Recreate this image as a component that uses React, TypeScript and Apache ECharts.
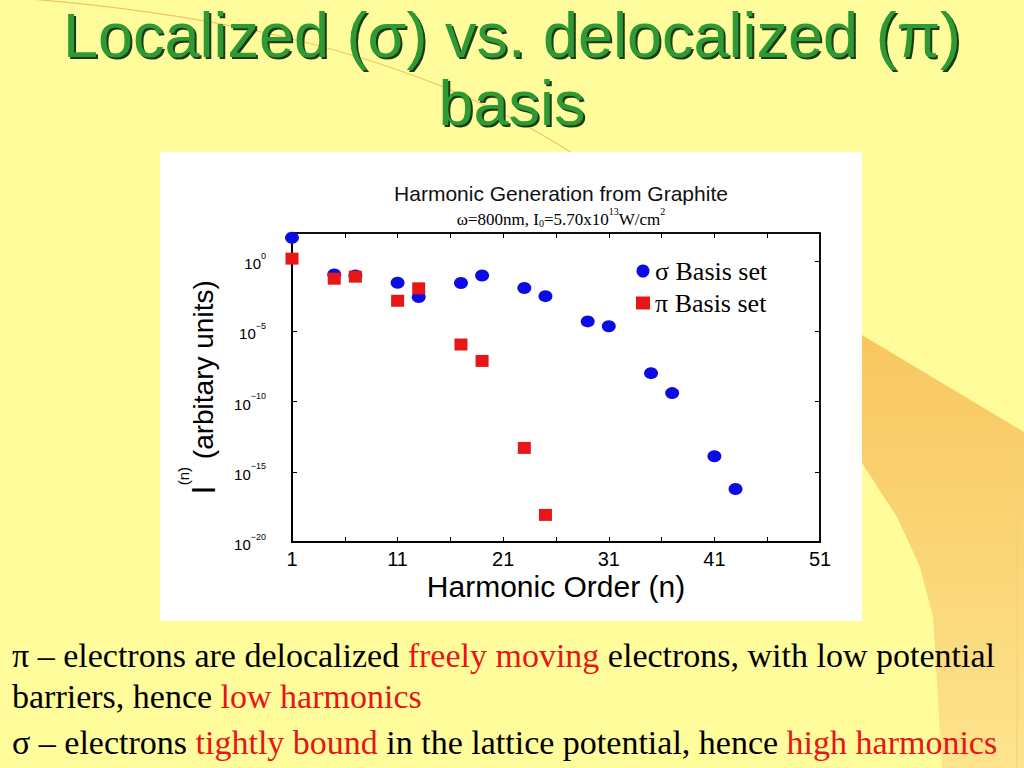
import { useEffect, useRef } from "react";
import * as echarts from "echarts";

// harmonic orders (odd only) and intensities
const sigmaOrders = [1, 5, 7, 11, 13, 17, 19, 23, 25, 29, 31, 35, 37, 41, 43];
const sigmaIntensity = [
  4.6e1, 1.1e-1, 9.5e-2, 2.9e-2, 2.75e-3, 2.75e-2, 9.5e-2, 1.2e-2, 3.2e-3,
  5.1e-5, 2.3e-5, 1.05e-8, 4.0e-10, 1.26e-14, 5.9e-17,
];
const piOrders = [1, 5, 7, 11, 13, 17, 19, 23, 25];
const piIntensity = [1.5, 5.6e-2, 7.8e-2, 1.5e-3, 1.15e-2, 1.15e-6, 7.8e-8, 5.0e-14, 8.5e-19];

const xLabelValues = [1, 11, 21, 31, 41, 51];
const xTickValues = [1, 6, 11, 16, 21, 26, 31, 36, 41, 46, 51];
const yTickValues = [1e-20, 1e-15, 1e-10, 1e-5, 1e0];

const SANS = "Liberation Sans, Arial, Helvetica, sans-serif";
const SERIF = "Liberation Serif, Times New Roman, serif";
const TITLE_LINE1 = "Localized (σ) vs. delocalized (π)";
const TITLE_LINE2 = "basis";

export default function App() {
  const chartRef = useRef<HTMLDivElement>(null);

  useEffect(() => {
    if (!chartRef.current) return;
    const chart = echarts.init(chartRef.current, null, { renderer: "svg" });

    const expLabel = (v: number) => {
      const e = Math.round(Math.log10(v));
      const txt = e === 0 ? "0" : "\u2212" + Math.abs(e);
      return `{b|10}{s|${txt}}`;
    };

    const bullet = (fontSize: number) => ({
      k: { fill: "#000", fontFamily: SERIF, fontSize },
      r: { fill: "#e8141a", fontFamily: SERIF, fontSize },
    });

    const slideTitleStyle = {
      fontFamily: SANS,
      fontSize: 63,
      fontWeight: "normal" as const,
      lineHeight: 70,
      color: "#2f9a33",
    };

    const titleShadow = (text: string, y: number) => ({
      type: "text" as const,
      z: -5,
      x: 514,
      y,
      silent: true,
      style: {
        text,
        align: "center" as const,
        verticalAlign: "top" as const,
        lineHeight: 70,
        fontFamily: SANS,
        fontSize: 63,
        fill: "#1c3a14",
      },
    });

    const option: echarts.EChartsOption = {
      animation: false,
      backgroundColor: "#fffc9c",
      title: [
        { text: TITLE_LINE1, left: "center", top: 0, padding: 0, textStyle: slideTitleStyle },
        { text: TITLE_LINE2, left: "center", top: 68, padding: 0, textStyle: slideTitleStyle },
        {
          text: "Harmonic Generation from Graphite",
          left: 556,
          textAlign: "center",
          top: 178,
          itemGap: 2,
          textStyle: {
            fontFamily: SANS,
            fontSize: 21,
            fontWeight: "normal",
            color: "#111",
          },
          subtext: "{w|ω=800nm, I}{sub|0}{w|=5.70x10}{sup|13}{w|W/cm}{sup|2}",
          subtextStyle: {
            rich: {
              w: { fontFamily: SERIF, fontSize: 17, color: "#000", padding: [5, 0, 0, 0] },
              sub: { fontFamily: SERIF, fontSize: 10, color: "#000", verticalAlign: "bottom" },
              sup: { fontFamily: SERIF, fontSize: 10, color: "#000", verticalAlign: "top" },
            },
          },
        },
      ],
      legend: {
        orient: "vertical",
        left: 631,
        top: 253,
        itemWidth: 14,
        itemHeight: 13,
        itemGap: 6,
        data: [
          { name: "σ Basis set", icon: "circle" },
          { name: "π Basis set", icon: "rect" },
        ],
        textStyle: { fontFamily: SERIF, fontSize: 26, color: "#000" },
      },
      grid: {
        left: 292,
        top: 233,
        right: 204,
        bottom: 226,
        show: true,
        borderColor: "#000",
        borderWidth: 1.5,
        backgroundColor: "transparent",
      },
      xAxis: [
        {
          type: "value",
          min: 1,
          max: 51,
          position: "bottom",
          axisLine: { show: true, lineStyle: { color: "#000", width: 2 } },
          axisTick: {
            show: true,
            inside: true,
            length: 5,
            customValues: xTickValues,
            lineStyle: { color: "#000" },
          },
          axisLabel: {
            customValues: xLabelValues,
            color: "#000",
            fontFamily: SANS,
            fontSize: 20,
            margin: 7,
          },
          splitLine: { show: false },
          name: "Harmonic Order (n)",
          nameLocation: "middle",
          nameGap: 29,
          nameTextStyle: { fontFamily: SANS, fontSize: 30, color: "#000" },
        },
        {
          type: "value",
          min: 1,
          max: 51,
          position: "top",
          axisLine: { show: true, lineStyle: { color: "#000", width: 1.5 } },
          axisTick: {
            show: true,
            inside: true,
            length: 5,
            customValues: xTickValues,
            lineStyle: { color: "#000" },
          },
          axisLabel: { show: false },
          splitLine: { show: false },
        },
      ],
      yAxis: [
        {
          type: "log",
          logBase: 10,
          min: 1e-20,
          max: 1e2,
          position: "left",
          axisLine: { show: true, lineStyle: { color: "#000", width: 2 } },
          axisTick: {
            show: true,
            inside: true,
            length: 5,
            customValues: yTickValues,
            lineStyle: { color: "#000" },
          },
          axisLabel: {
            customValues: yTickValues,
            formatter: expLabel,
            margin: 26,
            rich: {
              b: { fontFamily: SANS, fontSize: 15, color: "#000", padding: [5, 0, 0, 0] },
              s: { fontFamily: SANS, fontSize: 9, color: "#000", verticalAlign: "top" },
            },
          },
          splitLine: { show: false },
          minorTick: { show: false },
          name: "{i|I}{n|(n)}{t| (arbitary units)}",
          nameLocation: "middle",
          nameRotate: 90,
          nameGap: 72,
          nameTextStyle: {
            rich: {
              i: { fontFamily: SANS, fontSize: 34, color: "#000", padding: [10, 0, 0, 0] },
              n: { fontFamily: SANS, fontSize: 15, color: "#000", verticalAlign: "top" },
              t: { fontFamily: SANS, fontSize: 28, color: "#000", padding: [10, 0, 0, 0] },
            },
          },
        },
        {
          type: "log",
          logBase: 10,
          min: 1e-20,
          max: 1e2,
          position: "right",
          axisLine: { show: true, lineStyle: { color: "#000", width: 1.5 } },
          axisTick: {
            show: true,
            inside: true,
            length: 5,
            customValues: yTickValues,
            lineStyle: { color: "#000" },
          },
          axisLabel: { show: false },
          splitLine: { show: false },
        },
      ],
      series: [
        {
          name: "σ Basis set",
          type: "scatter",
          symbol: "circle",
          symbolSize: [14, 12],
          itemStyle: { color: "#0b0be6", opacity: 1 },
          data: sigmaOrders.map((n, i) => [n, sigmaIntensity[i]]),
        },
        {
          name: "π Basis set",
          type: "scatter",
          symbol: "rect",
          symbolSize: [13, 12],
          itemStyle: { color: "#e81616", opacity: 1 },
          data: piOrders.map((n, i) => [n, piIntensity[i]]),
        },
      ],
      graphic: {
        elements: [
          {
            type: "bezierCurve",
            z: -10,
            shape: { x1: -10, y1: -4, cpx1: 200, cpy1: 10, cpx2: 430, cpy2: 50, x2: 600, y2: 172 },
            style: { stroke: "#f0c36a", lineWidth: 1.2, fill: "none" },
          },
          {
            type: "polygon",
            z: -10,
            shape: {
              points: [
                [862, 335], [1024, 432], [1024, 768], [942, 768], [938, 700],
                [933, 617], [920, 567], [897, 517], [862, 463],
              ],
            },
            style: {
              fill: new echarts.graphic.LinearGradient(0, 0, 0, 1, [
                { offset: 0, color: "#f8c660" },
                { offset: 1, color: "#fde48c" },
              ]),
            },
          },
          {
            type: "line",
            z: -9,
            shape: { x1: 1017, y1: 430, x2: 1017, y2: 768 },
            style: { stroke: "#f3cf78", lineWidth: 1 },
          },
          {
            type: "rect",
            z: -8,
            shape: { x: 160, y: 152, width: 702, height: 469 },
            style: { fill: "#ffffff" },
          },
          // dark drop shadow behind the slide title
          titleShadow(TITLE_LINE1, 2),
          titleShadow(TITLE_LINE2, 70),
          {
            type: "text",
            x: 12,
            y: 655,
            style: {
              text: "{k|π – electrons are delocalized }{r|freely moving}{k| electrons, with low potential}",
              verticalAlign: "middle",
              rich: bullet(34),
            },
          },
          {
            type: "text",
            x: 12,
            y: 696,
            style: {
              text: "{k|barriers, hence }{r|low harmonics}",
              verticalAlign: "middle",
              rich: bullet(34),
            },
          },
          {
            type: "text",
            x: 12,
            y: 742,
            style: {
              text: "{k|σ – electrons }{r|tightly bound}{k| in the lattice potential, hence }{r|high harmonics}",
              verticalAlign: "middle",
              rich: bullet(34),
            },
          },
        ],
      },
    };

    chart.setOption(option);
    return () => chart.dispose();
  }, []);

  return (
    <div
      ref={chartRef}
      style={{ position: "fixed", left: 0, top: 0, width: 1024, height: 768 }}
    />
  );
}
